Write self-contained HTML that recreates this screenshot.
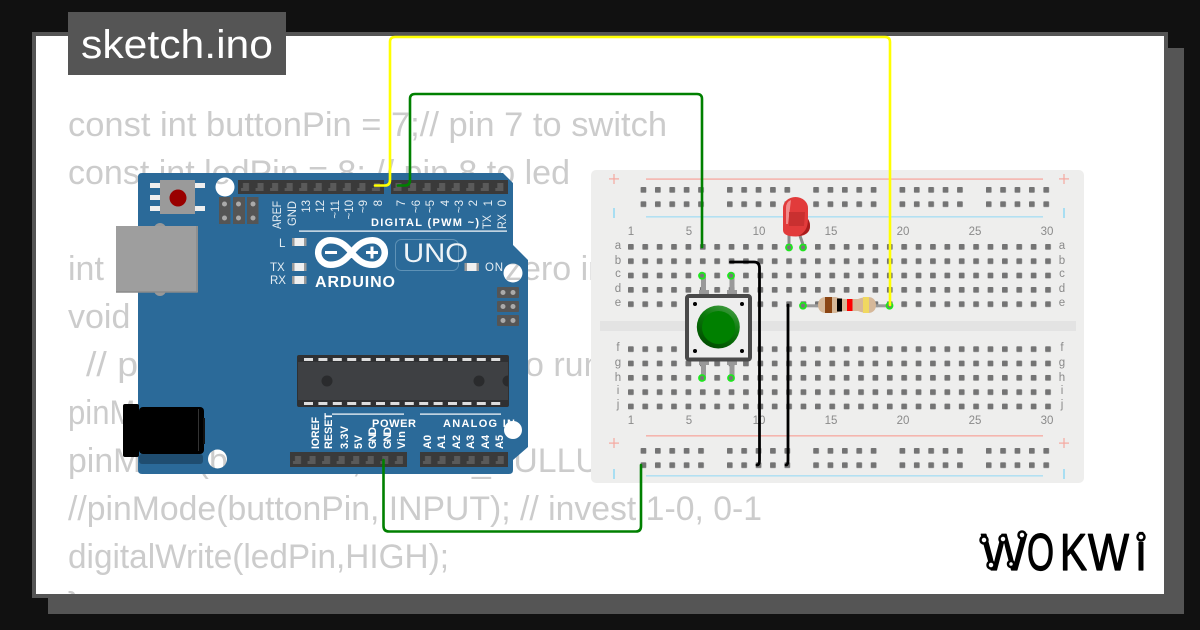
<!DOCTYPE html>
<html><head><meta charset="utf-8"><style>
html,body{margin:0;padding:0;background:#111;width:1200px;height:630px;overflow:hidden}
svg{display:block}
text{font-family:"Liberation Sans",sans-serif}
</style></head><body>
<svg xmlns="http://www.w3.org/2000/svg" width="1200" height="630" viewBox="0 0 1200 630">
<defs>
<clipPath id="pg"><rect x="36" y="36" width="1128" height="558"/></clipPath>
<pattern id="h1" x="628" y="244" width="14.385" height="14.33" patternUnits="userSpaceOnUse"><rect width="5.700" height="5.700" rx=".8" fill="#747474"/></pattern>
<pattern id="h5" x="628" y="346.300" width="14.385" height="14.33" patternUnits="userSpaceOnUse"><rect width="5.700" height="5.700" rx=".8" fill="#747474"/></pattern>
<pattern id="h2" x="640.600" y="187" width="14.385" height="14.33" patternUnits="userSpaceOnUse"><rect width="5.700" height="5.700" rx=".8" fill="#747474"/></pattern>
<pattern id="h3" x="640.600" y="448" width="14.385" height="14.33" patternUnits="userSpaceOnUse"><rect width="5.700" height="5.700" rx=".8" fill="#747474"/></pattern>
<pattern id="hp" x="238" y="180" width="14.55" height="14" patternUnits="userSpaceOnUse"><path d="M4 3h7v8H3V8h2V3z" fill="#5a5a5a"/></pattern>
<pattern id="hp2" x="390.500" y="180" width="14.55" height="14" patternUnits="userSpaceOnUse"><path d="M4 3h7v8H3V8h2V3z" fill="#5a5a5a"/></pattern>
<pattern id="hp3" x="290" y="453" width="14.55" height="14" patternUnits="userSpaceOnUse"><path d="M4 3h7v8H3V8h2V3z" fill="#5a5a5a"/></pattern>
<pattern id="hp4" x="420" y="453" width="14.55" height="14" patternUnits="userSpaceOnUse"><path d="M4 3h7v8H3V8h2V3z" fill="#5a5a5a"/></pattern>
<linearGradient id="btn" x1="0.800" y1="0.050" x2="0.300" y2="1"><stop offset="0" stop-color="#3f9a3f"/><stop offset=".4" stop-color="#0a7a0a"/><stop offset="1" stop-color="#004c00"/></linearGradient>
</defs>

<rect width="1200" height="630" fill="#111"/>
<rect x="48" y="48" width="1136" height="566" fill="#555"/>
<rect x="32" y="32" width="1136" height="566" fill="#555"/>
<rect x="36" y="36" width="1128" height="558" fill="#fff"/>

<g clip-path="url(#pg)" fill="#ccc" font-size="34">
<text x="68" y="136" textLength="599" lengthAdjust="spacingAndGlyphs">const int buttonPin = 7;// pin 7 to switch</text>
<text x="68" y="184" textLength="502" lengthAdjust="spacingAndGlyphs">const int ledPin = 8; // pin 8 to led</text>
<text x="68" y="280">int</text>
<text x="505" y="280">zero initial</text>
<text x="68" y="328">void setup() {</text>
<text x="86" y="376" textLength="52" lengthAdjust="spacingAndGlyphs">// p</text>
<text x="525" y="376">o run once</text>
<text x="68" y="424" textLength="380" lengthAdjust="spacingAndGlyphs">pinMode(ledPin, OUTPUT);</text>
<text x="68" y="472" textLength="575" lengthAdjust="spacingAndGlyphs">pinMode(buttonPin, INPUT_PULLUP);</text>
<text x="68" y="520" textLength="694" lengthAdjust="spacingAndGlyphs">//pinMode(buttonPin, INPUT); // invest 1-0, 0-1</text>
<text x="68" y="568" textLength="381" lengthAdjust="spacingAndGlyphs">digitalWrite(ledPin,HIGH);</text>
<text x="68" y="616">}</text>
</g>

<rect x="68" y="12" width="218" height="63" fill="#555"/>
<text x="81" y="58" font-size="40" fill="#fff" textLength="192" lengthAdjust="spacingAndGlyphs">sketch.ino</text>

<!-- Arduino -->
<path fill-rule="evenodd" d="M142 173H503L513 183V245L528 260V447L513 460V470Q513 474 509 474H142Q138 474 138 470V177Q138 173 142 173Z
M215.500 187a9.500 9.500 0 1 0 19 0a9.500 9.500 0 1 0 -19 0Z
M503.500 273a9.500 9.500 0 1 0 19 0a9.500 9.500 0 1 0 -19 0Z
M208 459a9.500 9.500 0 1 0 19 0a9.500 9.500 0 1 0 -19 0Z
M504 430a9 9 0 1 0 18 0a9 9 0 1 0 -18 0Z" fill="#2b6a99"/>
<!-- USB -->
<circle cx="160" cy="229" r="6" fill="#999"/><circle cx="160" cy="290" r="6" fill="#999"/>
<rect x="116" y="226" width="82" height="66" fill="#9e9e9e"/>
<path d="M197 226v66H116" fill="none" stroke="#8a8a8a" stroke-width="1.500"/>
<!-- Reset -->
<g fill="#eee"><rect x="150" y="183" width="10" height="5"/><rect x="150" y="195" width="10" height="5"/><rect x="150" y="206" width="10" height="5"/><rect x="195" y="183" width="10" height="5"/><rect x="195" y="206" width="10" height="5"/></g>
<rect x="160" y="180" width="35" height="34" fill="#9a9a9a"/>
<circle cx="178" cy="198" r="8.500" fill="#990000"/>
<!-- ICSP top -->
<g fill="#555"><rect x="219" y="197" width="11.500" height="27"/><rect x="233" y="197" width="12" height="27"/><rect x="247" y="197" width="11.500" height="27"/></g>
<g fill="#aaa"><circle cx="224.500" cy="204" r="2.500"/><circle cx="224.500" cy="218" r="2.500"/><circle cx="238.500" cy="204" r="2.500"/><circle cx="238.500" cy="218" r="2.500"/><circle cx="253" cy="204" r="2.500"/><circle cx="253" cy="218" r="2.500"/></g>
<!-- Headers -->
<rect x="238" y="180" width="146" height="14" fill="#3a3a3a"/><rect x="238" y="180" width="146" height="14" fill="url(#hp)"/>
<rect x="391" y="180" width="117" height="14" fill="#3a3a3a"/><rect x="391" y="180" width="117" height="14" fill="url(#hp2)"/>
<rect x="290" y="452" width="117" height="15" fill="#3a3a3a"/><rect x="290" y="452" width="117" height="15" fill="url(#hp3)"/>
<rect x="420" y="452" width="88" height="15" fill="#3a3a3a"/><rect x="420" y="452" width="88" height="15" fill="url(#hp4)"/>
<!-- digital labels -->
<g fill="#e4edf3" font-size="11.500">
<text transform="translate(281,229) rotate(-90)" textLength="28" lengthAdjust="spacingAndGlyphs">AREF</text>
<text transform="translate(296,226) rotate(-90)" textLength="25" lengthAdjust="spacingAndGlyphs">GND</text>
<text transform="translate(491,229) rotate(-90)" textLength="14" lengthAdjust="spacingAndGlyphs">TX</text>
<text transform="translate(506,229) rotate(-90)" textLength="15" lengthAdjust="spacingAndGlyphs">RX</text>
</g>
<g fill="#e4edf3" font-size="11.500" text-anchor="end">
<text transform="translate(310,200) rotate(-90)">13</text>
<text transform="translate(324,200) rotate(-90)">12</text>
<text transform="translate(339,200) rotate(-90)">~11</text>
<text transform="translate(353,200) rotate(-90)">~10</text>
<text transform="translate(367,200) rotate(-90)">~9</text>
<text transform="translate(382,200) rotate(-90)">8</text>
<text transform="translate(405,200) rotate(-90)">7</text>
<text transform="translate(420,200) rotate(-90)">~6</text>
<text transform="translate(434,200) rotate(-90)">~5</text>
<text transform="translate(449,200) rotate(-90)">4</text>
<text transform="translate(463,200) rotate(-90)">~3</text>
<text transform="translate(477,200) rotate(-90)">2</text>
<text transform="translate(492,200) rotate(-90)">1</text>
<text transform="translate(506,200) rotate(-90)">0</text>
</g>
<text x="371" y="226" font-size="11" font-weight="bold" fill="#fff" textLength="108">DIGITAL (PWM ~)</text>
<rect x="299" y="230.500" width="208" height="1.200" fill="#fff"/>
<!-- LEDs -->
<g>
<rect x="292" y="238" width="14.500" height="8" fill="#9a9a9a"/><rect x="294.500" y="238" width="9.500" height="8" fill="#f0f0f0"/>
<rect x="292" y="263" width="14.500" height="8" fill="#9a9a9a"/><rect x="294.500" y="263" width="9.500" height="8" fill="#f0f0f0"/>
<rect x="292" y="276" width="14.500" height="8" fill="#9a9a9a"/><rect x="294.500" y="276" width="9.500" height="8" fill="#f0f0f0"/>
<rect x="464.500" y="263" width="14.500" height="8" fill="#9a9a9a"/><rect x="467" y="263" width="9.500" height="8" fill="#f0f0f0"/>
</g>
<g fill="#e4edf3" font-size="11.500">
<text x="279" y="247">L</text>
<text x="270" y="271">TX</text>
<text x="270" y="284">RX</text>
<text x="485" y="271" textLength="18">ON</text>
</g>
<!-- Logo -->
<path d="M351.500 252.500C344 243 338 240.200 330.500 240.200A12.300 12.300 0 0 0 330.500 264.800C338 264.800 344 262 351.500 252.500C359 243 365 240.200 372.500 240.200A12.300 12.300 0 0 1 372.500 264.800C365 264.800 359 262 351.500 252.500Z" fill="none" stroke="#fff" stroke-width="6.500"/>
<rect x="325" y="251" width="12" height="3" fill="#fff"/>
<rect x="366" y="251" width="12" height="3" fill="#fff"/><rect x="370.500" y="246.500" width="3" height="12" fill="#fff"/>
<text x="315" y="287" font-size="16" font-weight="bold" fill="#fff" textLength="80">ARDUINO</text>
<rect x="395.500" y="239.500" width="63" height="31" rx="6" fill="none" stroke="#5f92b6" stroke-width="1"/>
<text x="403" y="262" font-size="27" fill="#fff" fill-opacity=".92" textLength="65" lengthAdjust="spacingAndGlyphs">UNO</text>
<!-- ICSP right -->
<g fill="#555"><rect x="497" y="287" width="22" height="11" rx="1"/><rect x="497" y="301" width="22" height="11" rx="1"/><rect x="497" y="315" width="22" height="11" rx="1"/></g>
<g fill="#aaa"><circle cx="503" cy="292.500" r="2.500"/><circle cx="513" cy="292.500" r="2.500"/><circle cx="503" cy="306.500" r="2.500"/><circle cx="513" cy="306.500" r="2.500"/><circle cx="503" cy="320.500" r="2.500"/><circle cx="513" cy="320.500" r="2.500"/></g>
<!-- Chip -->
<rect x="297" y="355" width="212" height="52" rx="2" fill="#2f3032"/>
<rect x="298" y="362" width="210" height="38" fill="#3e4043"/>
<g fill="#ddd">
<rect x="304" y="358" width="9" height="3"/><rect x="318.400" y="358" width="9" height="3"/><rect x="332.800" y="358" width="9" height="3"/><rect x="347.200" y="358" width="9" height="3"/><rect x="361.600" y="358" width="9" height="3"/><rect x="376" y="358" width="9" height="3"/><rect x="390.400" y="358" width="9" height="3"/><rect x="404.800" y="358" width="9" height="3"/><rect x="419.200" y="358" width="9" height="3"/><rect x="433.600" y="358" width="9" height="3"/><rect x="448" y="358" width="9" height="3"/><rect x="462.400" y="358" width="9" height="3"/><rect x="476.800" y="358" width="9" height="3"/><rect x="491.200" y="358" width="9" height="3"/>
<rect x="304" y="402" width="9" height="3"/><rect x="318.400" y="402" width="9" height="3"/><rect x="332.800" y="402" width="9" height="3"/><rect x="347.200" y="402" width="9" height="3"/><rect x="361.600" y="402" width="9" height="3"/><rect x="376" y="402" width="9" height="3"/><rect x="390.400" y="402" width="9" height="3"/><rect x="404.800" y="402" width="9" height="3"/><rect x="419.200" y="402" width="9" height="3"/><rect x="433.600" y="402" width="9" height="3"/><rect x="448" y="402" width="9" height="3"/><rect x="462.400" y="402" width="9" height="3"/><rect x="476.800" y="402" width="9" height="3"/><rect x="491.200" y="402" width="9" height="3"/>
</g>
<circle cx="327" cy="381" r="5.500" fill="#2a2b2d"/><circle cx="479" cy="381" r="5.500" fill="#2a2b2d"/><path d="M508 375.500A5.500 5.500 0 0 0 508 386.500Z" fill="#2a2b2d"/>
<!-- Jack -->
<rect x="139" y="454" width="64" height="10" rx="3" fill="#1f4d70"/>
<rect x="139" y="407" width="65" height="47" rx="4" fill="#000"/>
<rect x="203" y="418" width="2" height="26" fill="#111"/>
<rect x="123" y="404" width="16" height="53" rx="2" fill="#000"/>
<rect x="198" y="409" width="1" height="42" fill="#333"/>
<!-- Bottom lines/labels -->
<rect x="332" y="413.500" width="72" height="1.200" fill="#fff"/>
<rect x="420" y="413.500" width="81" height="1.200" fill="#fff"/>
<text x="372" y="427" font-size="11" font-weight="bold" fill="#fff" textLength="44">POWER</text>
<text x="443" y="427" font-size="11" font-weight="bold" fill="#fff" textLength="72">ANALOG IN</text>
<g fill="#fff" font-size="11" font-weight="bold">
<text transform="translate(319,449) rotate(-90)" textLength="32" lengthAdjust="spacingAndGlyphs">IOREF</text>
<text transform="translate(332,449) rotate(-90)" textLength="36" lengthAdjust="spacingAndGlyphs">RESET</text>
<text transform="translate(348,449) rotate(-90)" textLength="23">3.3V</text>
<text transform="translate(362,449) rotate(-90)" textLength="14">5V</text>
<text transform="translate(376,449) rotate(-90)" textLength="22">GND</text>
<text transform="translate(391,449) rotate(-90)" textLength="22">GND</text>
<text transform="translate(405,449) rotate(-90)" textLength="18">Vin</text>
<text transform="translate(431,449) rotate(-90)">A0</text>
<text transform="translate(445,449) rotate(-90)">A1</text>
<text transform="translate(460,449) rotate(-90)">A2</text>
<text transform="translate(474,449) rotate(-90)">A3</text>
<text transform="translate(489,449) rotate(-90)">A4</text>
<text transform="translate(503,449) rotate(-90)">A5</text>
</g>

<!-- Breadboard -->
<rect x="591" y="170" width="493" height="313" rx="5" fill="#eeeeed"/>
<rect x="600" y="321" width="476" height="10" fill="#e3e3e3"/>
<rect x="646" y="178.300" width="397" height="1.600" fill="#f5b5ae"/>
<rect x="646" y="216" width="397" height="1.600" fill="#b3e0f2"/>
<rect x="646" y="435" width="397" height="1.600" fill="#f5b5ae"/>
<rect x="646" y="475" width="397" height="1.600" fill="#b3e0f2"/>
<rect x="628" y="244" width="424" height="64" fill="url(#h1)"/>
<rect x="628" y="346" width="424" height="65" fill="url(#h5)"/>
<rect x="640" y="187" width="71" height="22" fill="url(#h2)"/>
<rect x="727" y="187" width="70" height="22" fill="url(#h2)"/>
<rect x="813" y="187" width="70" height="22" fill="url(#h2)"/>
<rect x="899.500" y="187" width="70" height="22" fill="url(#h2)"/>
<rect x="986" y="187" width="70" height="22" fill="url(#h2)"/>
<rect x="640" y="448" width="71" height="22" fill="url(#h3)"/>
<rect x="727" y="448" width="70" height="22" fill="url(#h3)"/>
<rect x="813" y="448" width="70" height="22" fill="url(#h3)"/>
<rect x="899.500" y="448" width="70" height="22" fill="url(#h3)"/>
<rect x="986" y="448" width="70" height="22" fill="url(#h3)"/>
<g fill="#8a8a8a" font-size="11.500" text-anchor="middle">
<text x="631" y="235">1</text><text x="689" y="235">5</text><text x="759" y="235">10</text><text x="831" y="235">15</text><text x="903" y="235">20</text><text x="975" y="235">25</text><text x="1047" y="235">30</text>
<text x="631" y="424">1</text><text x="689" y="424">5</text><text x="759" y="424">10</text><text x="831" y="424">15</text><text x="903" y="424">20</text><text x="975" y="424">25</text><text x="1047" y="424">30</text>
<text x="618" y="249">a</text><text x="618" y="264">b</text><text x="618" y="277">c</text><text x="618" y="292">d</text><text x="618" y="306">e</text>
<text x="618" y="351">f</text><text x="618" y="366">g</text><text x="618" y="381">h</text><text x="618" y="394">i</text><text x="618" y="408">j</text>
<text x="1062" y="249">a</text><text x="1062" y="264">b</text><text x="1062" y="277">c</text><text x="1062" y="292">d</text><text x="1062" y="306">e</text>
<text x="1062" y="351">f</text><text x="1062" y="366">g</text><text x="1062" y="381">h</text><text x="1062" y="394">i</text><text x="1062" y="408">j</text>
</g>
<g fill="#f5a8a0">
<rect x="609" y="178.300" width="10" height="1.200"/><rect x="613.400" y="174" width="1.200" height="10"/>
<rect x="1059" y="178.300" width="10" height="1.200"/><rect x="1063.400" y="174" width="1.200" height="10"/>
<rect x="609" y="442.500" width="10" height="1.200"/><rect x="613.400" y="438" width="1.200" height="10"/>
<rect x="1059" y="442.500" width="10" height="1.200"/><rect x="1063.400" y="438" width="1.200" height="10"/>
</g>
<g fill="#a8def2">
<rect x="613" y="208" width="2" height="10"/><rect x="1063" y="208" width="2" height="10"/>
<rect x="613" y="469" width="2" height="10"/><rect x="1063" y="469" width="2" height="10"/>
</g>

<!-- LED -->
<path d="M789 234V247M800 234C800 240 803 240 803 247" stroke="#8a8a8a" stroke-width="3" fill="none"/>
<path d="M783 208A12.500 11 0 0 1 808 208V219Q810 222 810 226Q810 236 796 236.500Q783 236.500 783 230Z" fill="#e23b3b"/>
<path d="M786 208Q786 202 791 200L788 224H786Z" fill="#f28c8c"/>
<path d="M789 212H805L804 226H789Z" fill="#c93030"/>
<path d="M808 219Q810 222 810 226Q810 235 798 236Q808 232 808 219Z" fill="#a81c1c"/>
<circle cx="789" cy="247.500" r="3" fill="#777" stroke="#1fe61f" stroke-width="1.800"/>
<circle cx="803" cy="247.500" r="3" fill="#777" stroke="#1fe61f" stroke-width="1.800"/>

<!-- Resistor -->
<rect x="803" y="304.300" width="86" height="3" fill="#999"/>
<path d="M818 305C818 299 822 297 826 297H836Q840 299 846 299H858Q863 297 868 297C873 297 876 300 876 305C876 310 873 313 868 313Q863 313 858 311H846Q840 311 836 313H826C822 313 818 311 818 305Z" fill="#d6b899"/>
<rect x="825" y="297" width="7" height="16" fill="#8b4513"/>
<rect x="837" y="298.500" width="5" height="13" fill="#000"/>
<rect x="847" y="299" width="5.500" height="12" fill="#f00"/>
<rect x="863" y="297" width="6" height="16" fill="#f0d860"/>
<circle cx="803" cy="305.700" r="3" fill="#777" stroke="#1fe61f" stroke-width="1.800"/>
<circle cx="889.500" cy="305.700" r="3" fill="#777" stroke="#1fe61f" stroke-width="1.800"/>

<!-- Button -->
<path d="M703.500 277V296M732 277V296M703.500 359V378M732 359V378" stroke="#999" stroke-width="5"/>
<rect x="699" y="290" width="10" height="5" fill="#999"/><rect x="727" y="290" width="10" height="5" fill="#999"/>
<rect x="699" y="360" width="10" height="5" fill="#999"/><rect x="727" y="360" width="10" height="5" fill="#999"/>
<rect x="687" y="296" width="63" height="63.500" rx="2" fill="#eee" stroke="#4a4a4a" stroke-width="4"/>
<g fill="#000"><circle cx="695" cy="304" r="2"/><circle cx="742" cy="304" r="2"/><circle cx="695" cy="351" r="2"/><circle cx="742" cy="351" r="2"/></g>
<circle cx="718.300" cy="327" r="21.500" fill="url(#btn)"/>
<circle cx="718.500" cy="327.500" r="16.500" fill="#008000"/>
<circle cx="702" cy="275.700" r="3" fill="#777" stroke="#1fe61f" stroke-width="1.800"/>
<circle cx="731" cy="275.700" r="3" fill="#777" stroke="#1fe61f" stroke-width="1.800"/>
<circle cx="702" cy="378" r="3" fill="#777" stroke="#1fe61f" stroke-width="1.800"/>
<circle cx="731" cy="378" r="3" fill="#777" stroke="#1fe61f" stroke-width="1.800"/>

<!-- Wires -->
<g fill="none" stroke-linecap="round">
<path d="M375 185.500H385Q390 185.500 390 180V42Q390 37 395 37H885Q890 37 890 42V305" stroke="#ffff00" stroke-width="2.600"/>
<path d="M398 185.500H405Q410 185.500 410 180V99Q410 94 415 94H697Q702 94 702 99V247" stroke="#008000" stroke-width="2.600"/>
<path d="M383.500 460V526Q383.500 531.500 389 531.500H636Q641 531.500 641 526V465" stroke="#008000" stroke-width="2.600"/>
<path d="M730.500 262H754Q759.500 262 759.500 268V460Q759.500 465 757 465" stroke="#000" stroke-width="2.800"/>
<path d="M788 305V460Q788 465 786 465" stroke="#000" stroke-width="2.800"/>
</g>

<!-- Wokwi wordmark -->
<g font-size="52" fill="#000" stroke="#000" stroke-width="1.200" stroke-linejoin="round">
<text x="981" y="570" textLength="46" lengthAdjust="spacingAndGlyphs">W</text>
<text x="1027" y="570" textLength="27" lengthAdjust="spacingAndGlyphs">O</text>
<text x="1060" y="570" textLength="27" lengthAdjust="spacingAndGlyphs">K</text>
<text x="1088" y="570" textLength="41" lengthAdjust="spacingAndGlyphs">W</text>
<text x="1136" y="570" textLength="10" lengthAdjust="spacingAndGlyphs">i</text>
</g>
<g fill="#fff" stroke="#000" stroke-width="2.500"><circle cx="984" cy="540" r="3.500"/><circle cx="1003" cy="539" r="3.500"/><circle cx="1022" cy="535" r="3.500"/><circle cx="991" cy="565" r="3.500"/><circle cx="1011" cy="564" r="3"/><circle cx="1141" cy="537" r="3.500"/></g>
</svg>
</body></html>
